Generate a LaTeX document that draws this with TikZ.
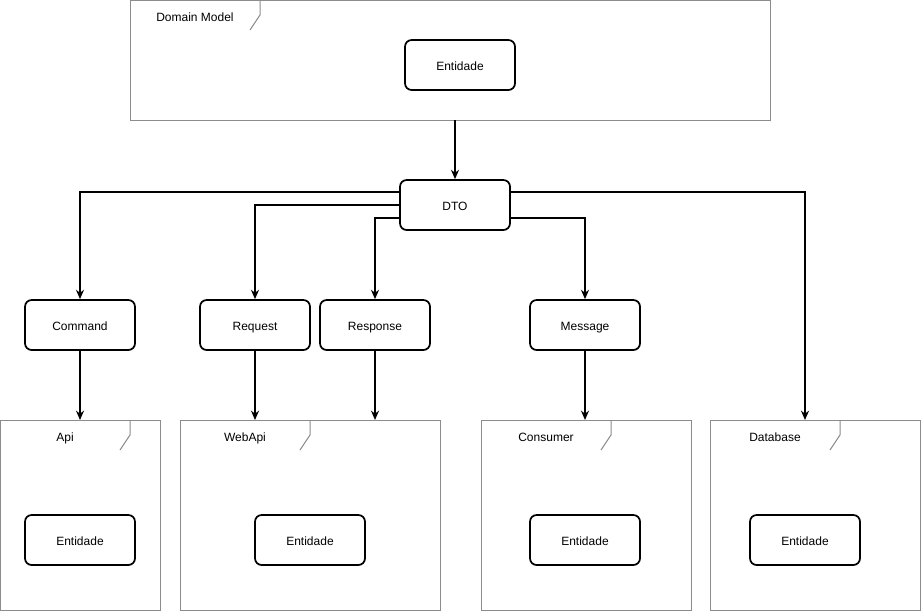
\documentclass[tikz,border=0pt]{standalone}
\usepackage{fontspec}
\setmainfont{Liberation Sans}
\usetikzlibrary{arrows.meta,calc}

\begin{document}
\begin{tikzpicture}[x=0.75pt, y=-0.75pt, font=\fontsize{9}{11}\selectfont,
        box/.style={draw, line width=1.3pt, rounded corners=5pt, minimum width=82.5pt, minimum height=37.5pt, inner sep=0pt, text height=8.3pt, text depth=0.5pt},
        frame/.style={draw=black!45, line width=0.75pt, inner sep=0pt, outer sep=0pt},
        link/.style={->, line width=1.3pt, >={Stealth[length=7pt, width=6pt]}}]
        \useasboundingbox (0,0) rectangle (921,611);

        % packages
        \node (domain) [frame, minimum width=480pt, minimum height=90pt] at (450,60) {};
        \node (api) [frame, minimum width=120pt, minimum height=142.5pt] at (80,515) {};
        \node (webapi) [frame, minimum width=195pt, minimum height=142.5pt] at (310,515) {};
        \node (consumer) [frame, minimum width=157.5pt, minimum height=142.5pt] at (586,515) {};
        \node (database) [frame, minimum width=157.5pt, minimum height=142.5pt] at (815,515) {};

        % tabs with the package names
        \foreach \f/\name in {domain/Domain Model, api/Api, webapi/WebApi, consumer/Consumer, database/Database} {
            \draw [black!45, line width=0.75pt] ($(\f.north west)+(130,0)$) -- ++(0,15) -- ++(-10,15);
            \node [text height=8.3pt, text depth=0.5pt] at ($(\f.north west)+(65,16)$) {\name};
        }

        % boxes
        \node (entDomain) [box] at (460,65) {Entidade};
        \node (dto) [box] at (455,205) {DTO};
        \node (command) [box] at (80,325) {Command};
        \node (request) [box] at (255,325) {Request};
        \node (response) [box] at (375,325) {Response};
        \node (message) [box] at (585,325) {Message};
        \node (entApi) [box] at (80,540) {Entidade};
        \node (entWebapi) [box] at (310,540) {Entidade};
        \node (entConsumer) [box] at (585,540) {Entidade};
        \node (entDatabase) [box] at (805,540) {Entidade};

        % connectors
        \draw [link] (dto.north |- domain.south) -- (dto.north);
        \draw [link] ($(dto.north west)!0.25!(dto.south west)$) -| (command.north);
        \draw [link] (dto.west) -| (request.north);
        \draw [link] ($(dto.north west)!0.75!(dto.south west)$) -| (response.north);
        \draw [link] ($(dto.north east)!0.75!(dto.south east)$) -| (message.north);
        \draw [link] ($(dto.north east)!0.25!(dto.south east)$) -| (entDatabase |- database.north);

        \draw [link] (command.south) -- (api.north);
        \draw [link] (request.south) -- (request.south |- webapi.north);
        \draw [link] (response.south) -- (response.south |- webapi.north);
        \draw [link] (message.south) -- (message.south |- consumer.north);

    \end{tikzpicture}
\end{document}
